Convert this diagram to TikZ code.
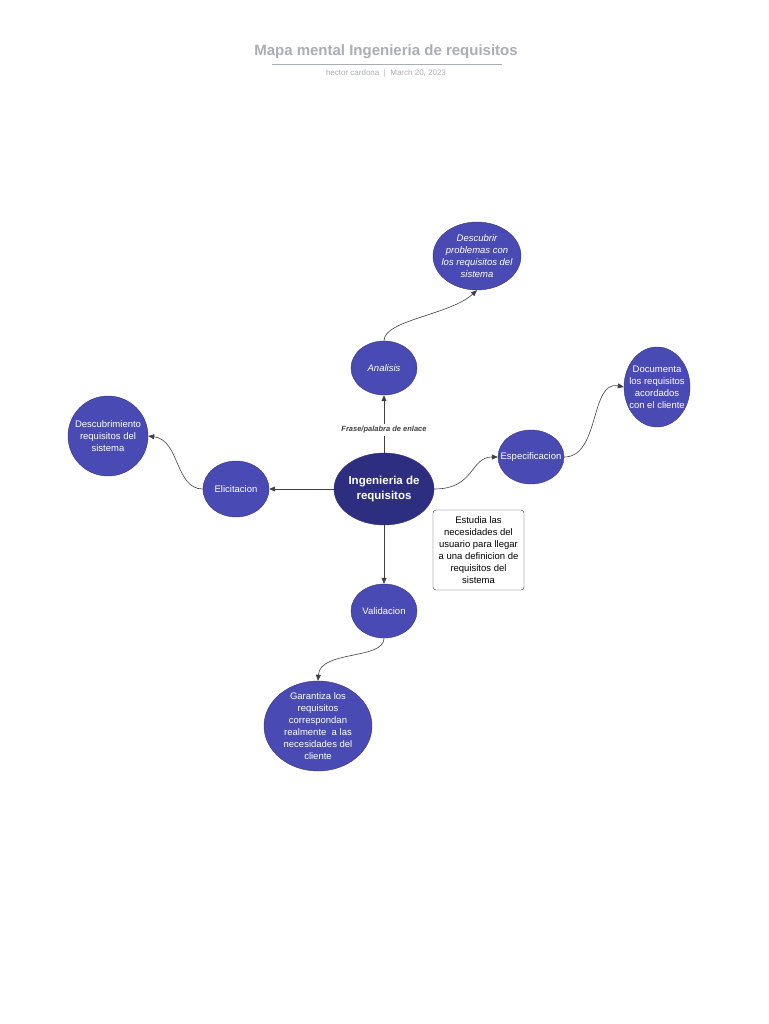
\documentclass[tikz,border=0pt]{standalone}
\usepackage{fontspec}
\setmainfont{Liberation Sans}
\usetikzlibrary{shapes.geometric,arrows.meta}
\definecolor{outerc}{HTML}{4A4AB5}
\definecolor{centerc}{HTML}{2E2E80}
\definecolor{titlec}{HTML}{A9ADB5}
\begin{document}
\begin{tikzpicture}[x=1pt,y=-1pt,
  bub/.style={ellipse,fill=outerc,draw=outerc!70!black,line width=0.4pt,inner sep=0pt},
  btxt/.style={text=white,align=center,inner sep=0pt,font=\fontsize{9.5}{12}\selectfont},
  conn/.style={draw=black!75,line width=0.6pt,-{Triangle[length=6pt,width=5pt]}}]
\useasboundingbox (0,0) rectangle (768,1024);
\node[font=\bfseries\fontsize{15}{18}\selectfont,text=titlec] (title) at (386,52) {Mapa mental Ingenieria de requisitos};
\draw[titlec,line width=0.6pt] (272,64) -- (502,64);
\node[font=\fontsize{8}{10}\selectfont,text=titlec] (sub) at (386,73) {hector cardona \ | \ March 20, 2023};

\node[bub,fill=centerc,minimum width=100pt,minimum height=72pt] (c) at (384,489) {};
\node[btxt,font=\bfseries\fontsize{11.5}{15}\selectfont] (ct) at (c) {Ingenieria de\\requisitos};
\node[bub,minimum width=66pt,minimum height=54pt] (an) at (384,368) {};
\node[btxt,font=\itshape\fontsize{9.5}{12}\selectfont] (ant) at (an) {Analisis};
\node[bub,minimum width=88pt,minimum height=68pt] (de) at (477,256) {};
\node[btxt,font=\itshape\fontsize{9.5}{12}\selectfont] (det) at (de) {Descubrir\\problemas con\\los requisitos del\\sistema};
\node[bub,minimum width=66pt,minimum height=54pt] (es) at (531,457) {};
\node[btxt] (est) at (es) {Especificacion};
\node[bub,minimum width=66pt,minimum height=80pt] (doc) at (657,387) {};
\node[btxt] (doct) at (doc) {Documenta\\los requisitos\\acordados\\con el cliente};
\node[bub,minimum width=66pt,minimum height=56pt] (el) at (236,489) {};
\node[btxt] (elt) at (el) {Elicitacion};
\node[bub,minimum width=80pt,minimum height=80pt] (dr) at (108,436) {};
\node[btxt] (drt) at (dr) {Descubrimiento\\requisitos del\\sistema};
\node[bub,minimum width=66pt,minimum height=54pt] (va) at (384,611) {};
\node[btxt] (vat) at (va) {Validacion};
\node[bub,minimum width=108pt,minimum height=90pt] (ga) at (318,726) {};
\node[btxt] (gat) at (ga) {Garantiza los\\requisitos\\correspondan\\realmente \ a las\\necesidades del\\cliente};
\node[draw=black!80,rounded corners=3pt,minimum width=91pt,minimum height=80pt,align=center,font=\fontsize{9.5}{12}\selectfont,inner sep=1pt] (box) at (478.5,550) {Estudia las\\necesidades del\\usuario para llegar\\a una definicion de\\requisitos del\\sistema};
\node[font=\bfseries\itshape\fontsize{7.5}{9}\selectfont,text=black!75,fill=white,inner sep=2pt] (lab) at (384,430) {Frase/palabra de enlace};

\draw[draw=black!75,line width=0.6pt] (c.north) -- (lab.south);
\draw[conn] (lab.north) -- (an.south);
\draw[conn] (an.north) .. controls (384,320) and (450,315) .. (de.south);
\draw[conn] (c.east) .. controls (475,489) and (470,457) .. (es.west);
\draw[conn] (es.east) .. controls (600,457) and (590,380) .. (doc.west);
\draw[conn] (c.west) -- (el.east);
\draw[conn] (el.west) .. controls (175,489) and (180,440) .. (dr.east);
\draw[conn] (c.south) -- (va.north);
\draw[conn] (va.south) .. controls (384,660) and (320,650) .. (ga.north);
\end{tikzpicture}
\end{document}
